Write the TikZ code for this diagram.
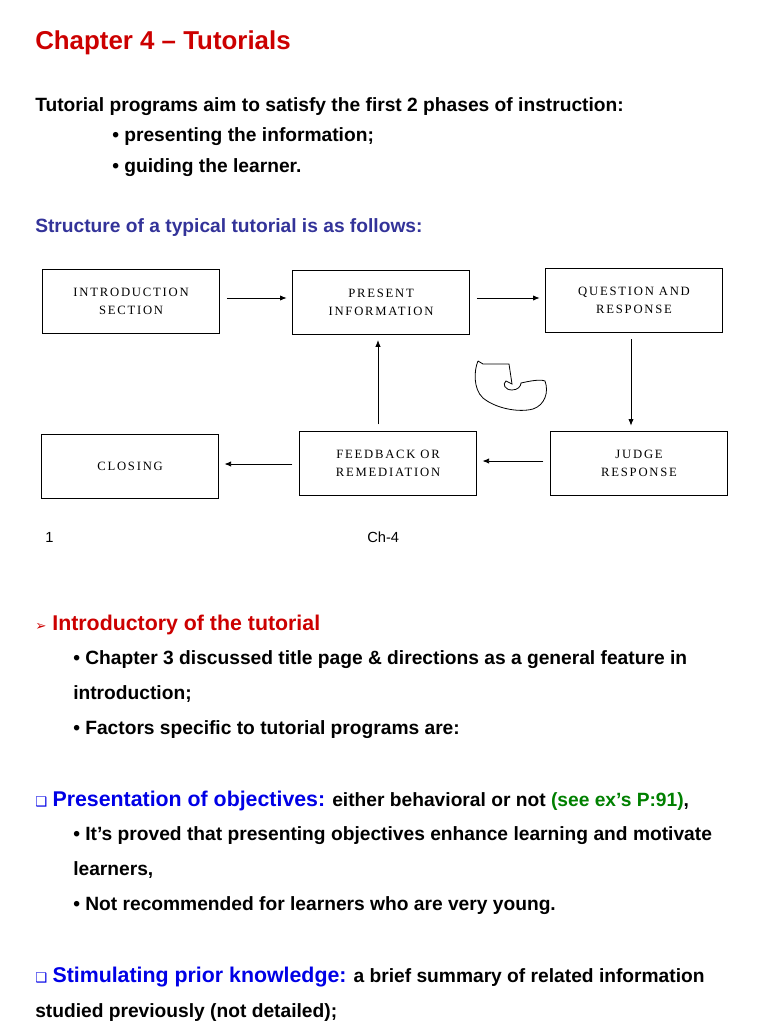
\documentclass[tikz,border=0pt]{standalone}
\usepackage{fontspec}
\setmainfont{Liberation Sans}
\newfontfamily\boxfont[LetterSpace=14]{Liberation Serif}
\newfontfamily\symfont{DejaVu Sans}
\usetikzlibrary{arrows.meta}
\definecolor{titlered}{RGB}{204,0,0}
\definecolor{structblue}{RGB}{51,51,153}
\definecolor{headblue}{RGB}{0,0,230}
\definecolor{notegreen}{RGB}{0,128,0}

\begin{document}
\begin{tikzpicture}[x=0.75pt, y=-0.75pt,
	phase/.style={draw, semithick, minimum width=133pt, minimum height=48pt, anchor=north west, font=\boxfont\fontsize{9.5}{13.5}\selectfont, align=center},
	line/.style={anchor=base west, inner sep=0pt, font=\bfseries\fontsize{14.4}{17}\selectfont},
	flow/.style={-{Latex[length=5pt,width=4pt]}, semithick, shorten <=5pt, shorten >=4pt}]
		\useasboundingbox (0,0) rectangle (768,1024);
		% heading
		\node (title) [line, text=titlered, font=\bfseries\fontsize{19.4}{22}\selectfont] at (35,50) {Chapter 4 -- Tutorials};
		\node (aim) [line] at (35,112) {Tutorial programs aim to satisfy the first 2 phases of instruction:};
		\node (aima) [line] at (112,142) {\textbullet\ presenting the information;};
		\node (aimb) [line] at (112,172) {\textbullet\ guiding the learner.};
		\node (struct) [line, text=structblue] at (35,232) {Structure of a typical tutorial is as follows:};
		% flow chart
		\node (intro) [phase] at (42,269) {INTRODUCTION\\SECTION};
		\node (present) [phase] at (292,270) {PRESENT\\INFORMATION};
		\node (question) [phase] at (545,268) {QUESTION AND\\RESPONSE};
		\node (closing) [phase] at (41,434) {CLOSING};
		\node (feedback) [phase] at (299,431) {FEEDBACK OR\\REMEDIATION};
		\node (judge) [phase] at (550,431) {JUDGE\\RESPONSE};
		\draw [flow] (intro.east |- 0,298) -- (present.west |- 0,298);
		\draw [flow] (present.east |- 0,298) -- (question.west |- 0,298);
		\draw [flow] (question.south -| 631,0) -- (judge.north -| 631,0);
		\draw [flow] (judge.west |- 0,461) -- (feedback.east |- 0,461);
		\draw [flow] (feedback.west |- 0,464) -- (closing.east |- 0,464);
		\draw [flow] (feedback.north -| 378,0) -- (present.south -| 378,0);
		% loop sign
		\draw [semithick] (478,361) -- (483,364) -- (509,364) -- (512,384) -- (506,381)
			.. controls (502,384) and (505,390) .. (512,390)
			.. controls (518,390) and (521,386) .. (521,383)
			.. controls (530,381) and (540,379) .. (545,381)
			.. controls (549,392) and (545,405) .. (533,409)
			.. controls (518,413) and (495,408) .. (483,398)
			.. controls (473,389) and (474,370) .. (478,361);
		\node (page) [anchor=base west, inner sep=0pt, font=\fontsize{11}{13}\selectfont] at (45,542) {1};
		\node (chap) [anchor=base west, inner sep=0pt, font=\fontsize{11}{13}\selectfont] at (367,542) {Ch-4};
		% notes
		\node (introhead) [line, text=titlered, font=\bfseries\fontsize{16}{19}\selectfont] at (35,630) {{\symfont\normalsize ➢} Introductory of the tutorial};
		\node (introa) [line] at (73,664) {\textbullet\ Chapter 3 discussed title page \& directions as a general feature in};
		\node (introb) [line] at (73,699) {introduction;};
		\node (introc) [line] at (73,734) {\textbullet\ Factors specific to tutorial programs are:};
		\node (objhead) [line] at (35,806) {\textcolor{headblue}{{\symfont\normalsize ❑} \fontsize{16}{19}\selectfont Presentation of objectives:} either behavioral or not \textcolor{notegreen}{(see ex’s P:91)},};
		\node (obja) [line] at (73,840) {\textbullet\ It’s proved that presenting objectives enhance learning and motivate};
		\node (objb) [line] at (73,875) {learners,};
		\node (objc) [line] at (73,910) {\textbullet\ Not recommended for learners who are very young.};
		\node (priorhead) [line] at (35,982) {\textcolor{headblue}{{\symfont\normalsize ❑} \fontsize{16}{19}\selectfont Stimulating prior knowledge:} a brief summary of related information};
		\node (priorb) [line] at (35,1017) {studied previously (not detailed);};
\end{tikzpicture}
\end{document}
